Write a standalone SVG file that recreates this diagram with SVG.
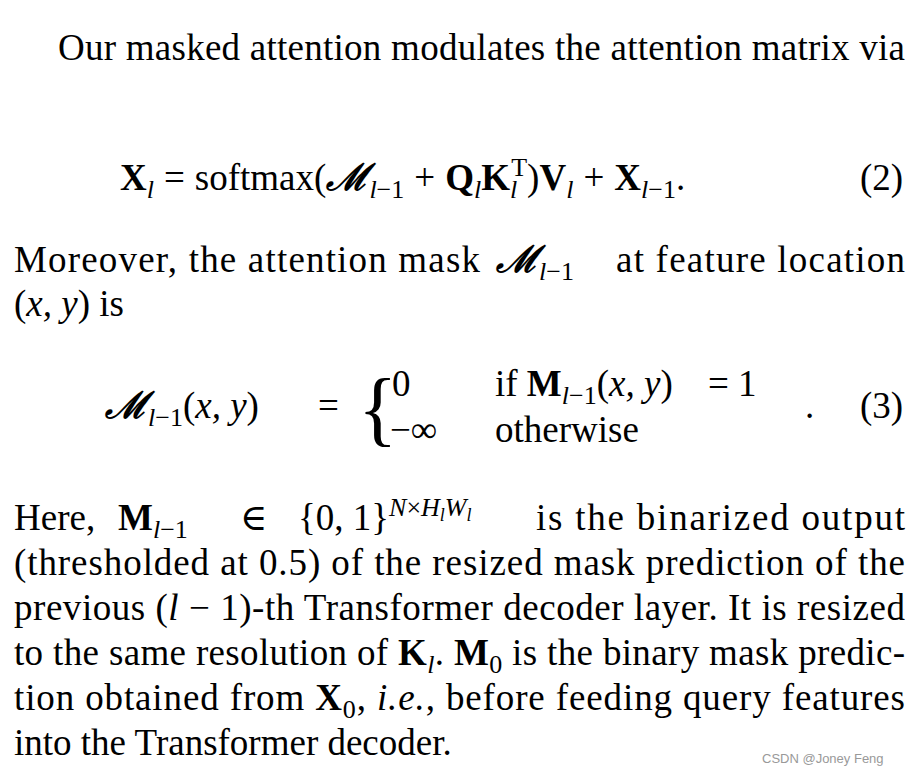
<svg xmlns="http://www.w3.org/2000/svg" width="923" height="776" viewBox="0 0 923 776">
<style>
text{font-family:"Liberation Serif","DejaVu Serif",serif;font-size:37px;fill:#000}
.b{font-weight:bold}
.bi{font-weight:bold;font-style:italic}
.i{font-style:italic}
.s{font-size:26px}
.wm{font-family:"Liberation Sans",sans-serif;font-size:13px;fill:#999}
</style>
<rect width="923" height="776" fill="#fff"/>
<text x="58" y="60" textLength="847" lengthAdjust="spacing">Our masked attention modulates the attention matrix via</text>
<text x="120" y="190"><tspan class="b">X</tspan><tspan class="i s" dy="8">l</tspan><tspan dy="-8" dx="10">=</tspan><tspan dx="10">softmax(</tspan><tspan class="bi">ℳ</tspan><tspan class="s" dy="8"><tspan class="i">l</tspan>−1</tspan><tspan dy="-8" dx="10">+</tspan><tspan class="b" dx="10">Q</tspan><tspan class="i s" dy="8">l</tspan><tspan class="b" dy="-8">K</tspan><tspan class="i s" dy="8">l</tspan><tspan class="s" dx="-6" dy="-22">T</tspan><tspan dy="14">)</tspan><tspan class="b">V</tspan><tspan class="i s" dy="8">l</tspan><tspan dy="-8" dx="10">+</tspan><tspan class="b" dx="10">X</tspan><tspan class="s" dy="8"><tspan class="i">l</tspan>−1</tspan><tspan dy="-8">.</tspan></text>
<text x="860" y="190">(2)</text>
<text x="14" y="272" textLength="466" lengthAdjust="spacing">Moreover, the attention mask</text>
<text x="496" y="272"><tspan class="bi">ℳ</tspan><tspan class="s" dy="8"><tspan class="i">l</tspan>−1</tspan></text>
<text x="616" y="272" textLength="289" lengthAdjust="spacing">at feature location</text>
<text x="14" y="316">(<tspan class="i">x, y</tspan>) is</text>
<text x="105" y="418"><tspan class="bi">ℳ</tspan><tspan class="s" dy="8"><tspan class="i">l</tspan>−1</tspan><tspan dy="-8">(</tspan><tspan class="i">x, y</tspan>)</text>
<text x="318" y="418">=</text>
<text x="358" y="436" style="font-size:82px">{</text>
<text x="392" y="396">0</text>
<text x="495" y="396">if <tspan class="b">M</tspan><tspan class="s" dy="8"><tspan class="i">l</tspan>−1</tspan><tspan dy="-8">(</tspan><tspan class="i">x, y</tspan>)</text>
<text x="708" y="396">= 1</text>
<text x="390" y="442">−∞</text>
<text x="495" y="442">otherwise</text>
<text x="805" y="418">.</text>
<text x="860" y="418">(3)</text>
<text x="14" y="530">Here,</text>
<text x="118" y="530"><tspan class="b">M</tspan><tspan class="s" dy="8"><tspan class="i">l</tspan>−1</tspan></text>
<text x="240" y="530">∈</text>
<text x="298" y="530">{0, 1}<tspan class="s" dy="-14"><tspan class="i">N</tspan>×<tspan class="i">H</tspan><tspan class="i" style="font-size:18px" dy="5">l</tspan><tspan class="i" dy="-5">W</tspan><tspan class="i" style="font-size:18px" dy="5">l</tspan></tspan></text>
<text x="536" y="530" textLength="369" lengthAdjust="spacing">is the binarized output</text>
<text x="14" y="575" textLength="891" lengthAdjust="spacing">(thresholded at 0.5) of the resized mask prediction of the</text>
<text x="14" y="620" textLength="891" lengthAdjust="spacing">previous (<tspan class="i">l</tspan> − 1)-th Transformer decoder layer. It is resized</text>
<text x="14" y="665" textLength="891" lengthAdjust="spacing">to the same resolution of <tspan class="b">K</tspan><tspan class="i s" dy="8">l</tspan><tspan dy="-8">. </tspan><tspan class="b">M</tspan><tspan class="s" dy="8">0</tspan><tspan dy="-8"> is the binary mask predic-</tspan></text>
<text x="14" y="710" textLength="891" lengthAdjust="spacing">tion obtained from <tspan class="b">X</tspan><tspan class="s" dy="8">0</tspan><tspan dy="-8">, </tspan><tspan class="i">i.e.</tspan>, before feeding query features</text>
<text x="14" y="755">into the Transformer decoder.</text>
<text x="762" y="763" class="wm">CSDN @Joney Feng</text>
</svg>
